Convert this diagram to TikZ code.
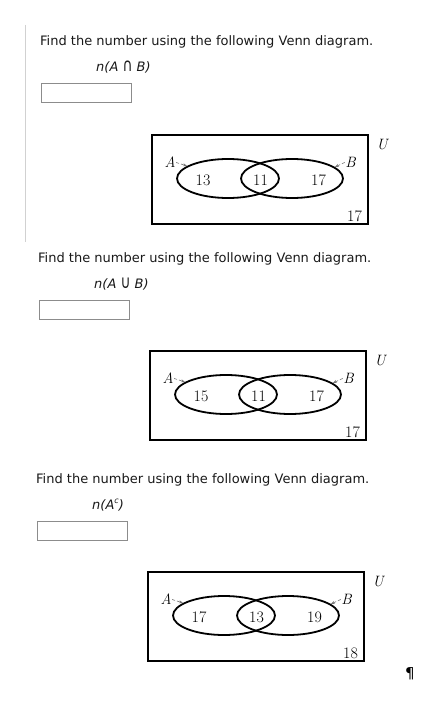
\documentclass[tikz,border=0pt]{standalone}
\usepackage{fontspec}
\usetikzlibrary{shapes.geometric,arrows.meta}
\newfontfamily\dv{DejaVu Sans}
\newcommand\tallop[1]{{\upshape\scalebox{1.05}[1.4]{#1}}}
\tikzset{
  qtext/.style={font=\dv\fontsize{13pt}{15pt}\selectfont, text=black!90, anchor=base west, inner sep=0},
  nlab/.style={font=\dv\itshape\fontsize{13pt}{15pt}\selectfont, text=black!90, anchor=base west, inner sep=0},
  inbox/.style={draw=black!45, line width=1pt, minimum width=90pt, minimum height=19pt, anchor=north west, inner sep=0},
  ubox/.style={draw, line width=2pt, minimum width=216pt, minimum height=89pt, inner sep=0},
  setell/.style={draw, ellipse, line width=1.8pt, minimum width=102pt, minimum height=39pt, inner sep=0},
  num/.style={font=\fontsize{16pt}{18pt}\selectfont, inner sep=0},
  setlab/.style={font=\itshape\fontsize{15pt}{17pt}\selectfont, inner sep=0.5pt},
  lblarrow/.style={draw=black!55, line width=0.6pt, densely dashed, -{Stealth[length=4pt,width=3pt]}},
}
\newcommand\VennSection[8]{%
  \begin{scope}[shift={(#2,#3)}]
    \node[qtext] (#1q) at (40,46) {Find the number using the following Venn diagram.};
    \node[nlab] (#1n) at (96,72) {#4};
    \node[inbox] (#1in) at (40.5,83.5) {};
    \node[ubox] (#1U) at (260,179.5) {};
    \node[setlab] (#1Ulab) at (382,145) {U};
    \node[setell] (#1A) at (228,178.5) {};
    \node[setell] (#1B) at (292,178.5) {};
    \node[num] (#1na) at (203,180) {#5};
    \node[num] (#1nab) at (260.5,180) {#6};
    \node[num] (#1nb) at (318.5,180) {#7};
    \node[num] (#1nu) at (354.5,216.5) {#8};
    \node[setlab] (#1Alab) at (170,162.5) {A};
    \node[setlab] (#1Blab) at (350.5,162.5) {B};
    \draw[lblarrow] (#1Alab.east) -- (#1A.163);
    \draw[lblarrow] (#1Blab.west) -- (#1B.15);
  \end{scope}}
\begin{document}
\begin{tikzpicture}[x=1pt,y=-1pt]
  \useasboundingbox (0,0) rectangle (435,727);
  \coordinate (bartop) at (25.5,25);
  \coordinate (barbot) at (25.5,242);
  \draw[black!18, line width=1pt] (bartop) -- (barbot);
  \VennSection{s1}{0}{0}{n(A \tallop{∩} B)}{13}{11}{17}{17}
  \VennSection{s2}{-2}{216}{n(A \tallop{∪} B)}{15}{11}{17}{17}
  \VennSection{s3}{-4}{437}{n(A\raisebox{0.42em}{\fontsize{8pt}{8pt}\selectfont c})}{17}{13}{19}{18}
  \node[font=\dv\fontsize{15pt}{17pt}\selectfont, inner sep=0] (pil) at (410,674) {¶};
\end{tikzpicture}
\end{document}
